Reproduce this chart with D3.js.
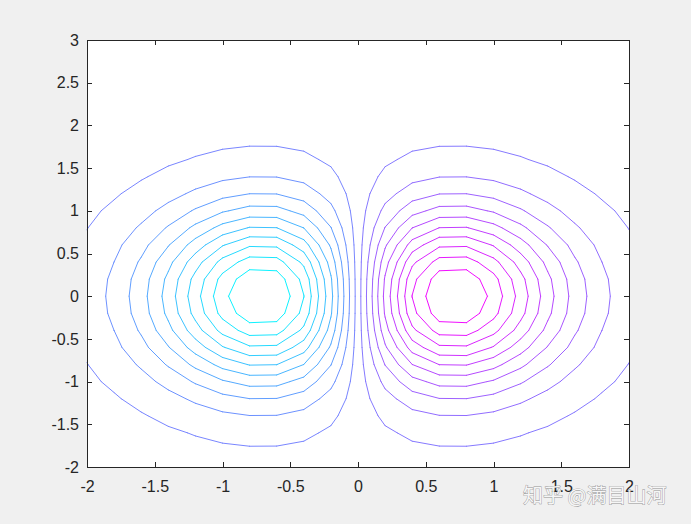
<!DOCTYPE html>
<html>
<head>
<meta charset="utf-8">
<script src="https://cdn.jsdelivr.net/npm/d3@7"></script>
<style>
  body { margin: 0; background: #f0f0f0; }
  svg { display: block; }
</style>
</head>
<body>
<div id="chart"></div>
<script>
// grid coordinates of the sampled surface
const gridX = [-2, -1.8, -1.6, -1.4, -1.2, -1, -0.8, -0.6, -0.4, -0.2, 0,
               0.2, 0.4, 0.6, 0.8, 1, 1.2, 1.4, 1.6, 1.8, 2];
const gridY = [-2, -1.8, -1.6, -1.4, -1.2, -1, -0.8, -0.6, -0.4, -0.2, 0,
               0.2, 0.4, 0.6, 0.8, 1, 1.2, 1.4, 1.6, 1.8, 2,
               2.2, 2.4, 2.6, 2.8, 3];

// surface height along y = 0, one per column
const colProfile = [-0.0366, -0.0705, -0.1237, -0.1972, -0.2843, -0.3679, -0.4218, -0.4186, -0.3409, -0.1922, 0,
                    0.1922, 0.3409, 0.4186, 0.4218, 0.3679, 0.2843, 0.1972, 0.1237, 0.0705, 0.0366];
// relative falloff per row
const rowProfile = [0.0183, 0.0392, 0.0773, 0.1409, 0.2369, 0.3679, 0.5273, 0.6977, 0.8521, 0.9608, 1,
                    0.9608, 0.8521, 0.6977, 0.5273, 0.3679, 0.2369, 0.1409, 0.0773, 0.0392, 0.0183,
                    0.0079, 0.0032, 0.0012, 0.0004, 0.0001];

// contour levels
const levels = [-0.38, -0.34, -0.30, -0.26, -0.22, -0.18, -0.14, -0.10, -0.06, -0.02,
                0.02, 0.06, 0.10, 0.14, 0.18, 0.22, 0.26, 0.30, 0.34, 0.38];

const xTicks = [-2, -1.5, -1, -0.5, 0, 0.5, 1, 1.5, 2];
const yTicks = [-2, -1.5, -1, -0.5, 0, 0.5, 1, 1.5, 2, 2.5, 3];

const W = 691, H = 524;
const box = {left: 87, right: 629, top: 40, bottom: 467};

// z table, rows follow gridY, columns follow gridX
const Z = rowProfile.map(r => colProfile.map(c => c * r));
const zMin = d3.min(Z, row => d3.min(row));
const zMax = d3.max(Z, row => d3.max(row));

const x = d3.scaleLinear().domain([-2, 2]).range([box.left, box.right]);
const y = d3.scaleLinear().domain([-2, 3]).range([box.bottom, box.top]);
// matlab "cool" colormap
const color = d3.scaleLinear().domain([zMin, zMax]).range(['#00ffff', '#ff00ff']);

const svg = d3.select('#chart').append('svg')
    .attr('width', W)
    .attr('height', H);

svg.append('rect')
    .attr('x', box.left).attr('y', box.top)
    .attr('width', box.right - box.left).attr('height', box.bottom - box.top)
    .attr('fill', 'white');

// plain marching squares, returns line segments in data units
function segmentsAt(L) {
  const segs = [];
  for (let j = 0; j < gridY.length - 1; j++) {
    for (let i = 0; i < gridX.length - 1; i++) {
      const c = [[i, j], [i + 1, j], [i + 1, j + 1], [i, j + 1]];
      const pts = [];
      for (let k = 0; k < 4; k++) {
        const a = c[k], b = c[(k + 1) % 4];
        const za = Z[a[1]][a[0]], zb = Z[b[1]][b[0]];
        if ((za < L) !== (zb < L)) {
          const t = (L - za) / (zb - za);
          pts.push([gridX[a[0]] + t * (gridX[b[0]] - gridX[a[0]]),
                    gridY[a[1]] + t * (gridY[b[1]] - gridY[a[1]])]);
        }
      }
      if (pts.length === 2) segs.push(pts);
      if (pts.length === 4) segs.push([pts[0], pts[1]], [pts[2], pts[3]]);
    }
  }
  return segs;
}

const line = d3.line().x(d => x(d[0])).y(d => y(d[1]));

svg.append('g')
  .selectAll('path')
  .data(levels)
  .enter().append('path')
    .attr('d', L => segmentsAt(L).map(s => line(s)).join(''))
    .attr('fill', 'none')
    .attr('stroke', L => color(L))
    .attr('stroke-width', 1)
    .attr('stroke-linecap', 'round')
    .attr('stroke-linejoin', 'round');

// axes (ticks point inward, box on all sides)
const axisColor = '#262626';

const gB = svg.append('g')
    .attr('transform', 'translate(0,' + box.bottom + ')')
    .call(d3.axisBottom(x).tickValues(xTicks).tickSizeInner(-5).tickSizeOuter(0).tickPadding(14)
      .tickFormat(d => String(d)));
const gT = svg.append('g')
    .attr('transform', 'translate(0,' + box.top + ')')
    .call(d3.axisTop(x).tickValues(xTicks).tickSizeInner(-5).tickSizeOuter(0).tickFormat(''));
const gL = svg.append('g')
    .attr('transform', 'translate(' + box.left + ',0)')
    .call(d3.axisLeft(y).tickValues(yTicks).tickSizeInner(-5).tickSizeOuter(0).tickPadding(8)
      .tickFormat(d => String(d)));
const gR = svg.append('g')
    .attr('transform', 'translate(' + box.right + ',0)')
    .call(d3.axisRight(y).tickValues(yTicks).tickSizeInner(-5).tickSizeOuter(0).tickFormat(''));

[gB, gT, gL, gR].forEach(g => {
  g.selectAll('path, line').attr('stroke', axisColor).attr('shape-rendering', 'crispEdges');
  g.selectAll('text')
    .attr('fill', axisColor)
    .style('font-family', '"Liberation Sans", Arial, sans-serif')
    .style('font-size', '16px');
});

// watermark
svg.append('text')
    .attr('x', 523)
    .attr('y', 503)
    .text('知乎 @满目山河')
    .style('font-family', '"Noto Sans CJK SC", sans-serif')
    .style('font-size', '20px')
    .attr('fill', '#f7f7f7')
    .attr('stroke', '#8a8a8a')
    .attr('stroke-width', 0.8)
    .attr('paint-order', 'stroke')
    .attr('opacity', 0.9);
</script>
</body>
</html>
